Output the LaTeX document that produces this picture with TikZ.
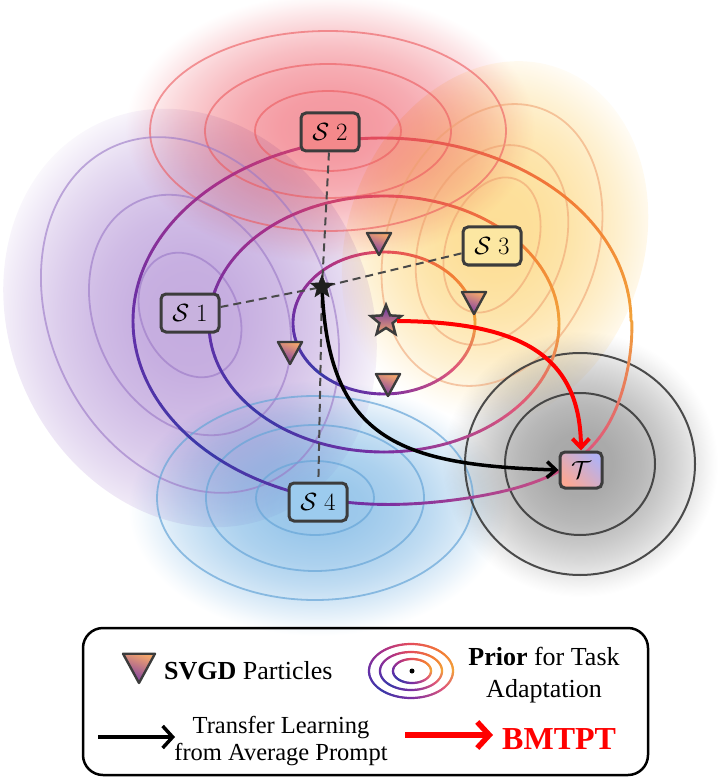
\documentclass[tikz,border=0pt]{standalone}
\usepackage{fontspec}
\setmainfont{Liberation Serif}
\usetikzlibrary{arrows.meta,shapes.geometric}

% prior curve colour stops
\definecolor{cO}{HTML}{F2A23A}
\definecolor{cRb}{HTML}{E0587A}
\definecolor{cPb}{HTML}{7A2FA2}
\definecolor{cB}{HTML}{3A38A8}
\definecolor{cPl}{HTML}{6430A8}
\definecolor{cM}{HTML}{A8308A}
\definecolor{cR}{HTML}{E44C5C}
\definecolor{cOr}{HTML}{F27A36}
% blobs
\definecolor{blobR}{HTML}{F4979F}
\definecolor{blobP}{HTML}{C4ABDF}
\definecolor{blobY}{HTML}{FDDE96}
\definecolor{blobB}{HTML}{98C6EA}
\definecolor{blobG}{HTML}{A6A6A6}
% thin ellipses
\definecolor{ellR}{HTML}{EC5A5E}
\definecolor{ellP}{HTML}{9A78C6}
\definecolor{ellY}{HTML}{EE9E6E}
\definecolor{ellB}{HTML}{68A6D8}
\definecolor{ellG}{HTML}{3A3A3A}
% boxes
\definecolor{boxline}{HTML}{3C3C3C}
\definecolor{fS2}{HTML}{F4898B}
\definecolor{fS1}{HTML}{C8B2DE}
\definecolor{fS3}{HTML}{FCE7A2}
\definecolor{fS4}{HTML}{9CCBEE}
\definecolor{fTa}{HTML}{B2B2F2}
\definecolor{fTb}{HTML}{FCA894}
\definecolor{dashc}{HTML}{4A4A4A}
\definecolor{triTop}{HTML}{F4A66C}
\definecolor{triMid}{HTML}{D0607E}
\definecolor{triBot}{HTML}{7A3AA8}

\newcommand{\declblob}[2]{%
  \pgfdeclareradialshading{#1}{\pgfpointorigin}{%
    color(0bp)=(#2); color(6bp)=(#2!95!white); color(11bp)=(#2!80!white);
    color(15bp)=(#2!62!white); color(18.5bp)=(#2!42!white); color(21.5bp)=(#2!22!white);
    color(23.5bp)=(#2!8!white); color(25bp)=(white); color(50bp)=(white)}}
\declblob{shR}{blobR}
\declblob{shP}{blobP}
\declblob{shY}{blobY}
\declblob{shB}{blobB}
\declblob{shG}{blobG}

\newcommand{\mixseg}[4]{%
  \pgfmathtruncatemacro\segpp{100*(#2-\segang)/(#2-#1)}%
  \colorlet{segc}{#3!\segpp!#4}}
\newcommand{\setsegcolor}[1]{%
  \pgfmathsetmacro\segang{mod(#1,360)}%
  \ifdim\segang pt<40pt \mixseg{0}{40}{cO}{cRb}\else
  \ifdim\segang pt<90pt \mixseg{40}{90}{cRb}{cPb}\else
  \ifdim\segang pt<135pt \mixseg{90}{135}{cPb}{cB}\else
  \ifdim\segang pt<180pt \mixseg{135}{180}{cB}{cPl}\else
  \ifdim\segang pt<230pt \mixseg{180}{230}{cPl}{cM}\else
  \ifdim\segang pt<270pt \mixseg{230}{270}{cM}{cR}\else
  \ifdim\segang pt<315pt \mixseg{270}{315}{cR}{cOr}\else
  \mixseg{315}{360}{cOr}{cO}\fi\fi\fi\fi\fi\fi\fi}
% #1 cx #2 cy #3 rx #4 ry #5 bump #6 width
\newcommand{\priorcurve}[6]{%
  \foreach \segA in {0,3,...,357}{%
    \setsegcolor{\segA+1.5}%
    \draw[draw=segc, line width=#6, line cap=round]
      plot[domain=\segA:\segA+3, samples=3, variable=\pv]
      ({#1+#3*cos(\pv)*(1+#5*exp(-min(20,((\pv-44)/24)*((\pv-44)/24))))},
       {#2+#4*sin(\pv)*(1+#5*exp(-min(20,((\pv-44)/24)*((\pv-44)/24))))});
  }}
% particle triangle: #1 x, #2 y, #3 scale
\newcommand{\particle}[3]{%
  \shadedraw[draw=boxline, line width=2.4pt, line join=round,
    top color=triTop, middle color=triMid, bottom color=triBot, shading angle=-20]
    ({#1-12*#3},{#2-10*#3}) -- ({#1+12*#3},{#2-10*#3}) -- ({#1},{#2+12*#3}) -- cycle;}

\begin{document}
\begin{tikzpicture}[x=1pt,y=-1pt,
  sbox/.style={draw=boxline, line width=3pt, rounded corners=5pt,
    minimum width=58pt, minimum height=38pt, inner sep=0pt,
    font=\fontsize{24}{26}\selectfont},
  thinell/.style={line width=1.8pt},
  dline/.style={draw=dashc, line width=2pt, dash pattern=on 8pt off 5pt},
  ltext/.style={inner sep=0pt, font=\fontsize{26}{31}\selectfont}]
\useasboundingbox (0,0) rectangle (725,783);

% soft blobs
\begin{scope}[blend mode=multiply]
\shade[shading=shP, rotate around={25:(190,318)}] (190,318) ellipse [x radius=180pt, y radius=215pt];
\shade[shading=shR] (330,128) ellipse [x radius=205pt, y radius=135pt];
\shade[shading=shY, rotate around={-20:(495,245)}] (495,245) ellipse [x radius=148pt, y radius=188pt];
\shade[shading=shB] (318,508) ellipse [x radius=190pt, y radius=128pt];
\shade[shading=shG] (580,464) ellipse [x radius=138pt, y radius=133pt];
\end{scope}

% thin ellipses
\foreach \rx/\ry in {178pt/100pt,123pt/67pt,73pt/40pt}
  \draw[thinell, draw=ellR, draw opacity=0.6] (328,131) ellipse [x radius=\rx, y radius=\ry];
\foreach \rx/\ry in {140pt/185pt,95pt/125pt,48pt/65pt}
  \draw[thinell, draw=ellP, draw opacity=0.6, rotate around={25:(190,315)}] (190,315) ellipse [x radius=\rx, y radius=\ry];
\foreach \rx/\ry in {105pt/145pt,72pt/103pt,45pt/70pt}
  \draw[thinell, draw=ellY, draw opacity=0.55, rotate around={-20:(492,245)}] (492,245) ellipse [x radius=\rx, y radius=\ry];
\foreach \rx/\ry in {158pt/102pt,109pt/73pt,59pt/37pt}
  \draw[thinell, draw=ellB, draw opacity=0.7] (315,498) ellipse [x radius=\rx, y radius=\ry];
\foreach \rx/\ry in {115pt/111pt,75pt/71pt}
  \draw[line width=2pt, draw=ellG, draw opacity=0.9] (580,464) ellipse [x radius=\rx, y radius=\ry];

% prior curves
\priorcurve{384}{323}{91}{71}{0}{2.9pt}
\priorcurve{384}{324}{175}{128}{0}{2.9pt}
\priorcurve{382}{321}{249}{183}{0.09}{2.9pt}

% positions
\coordinate (pB) at (322,287);
\node[sbox, fill=fS2] (S2) at (330,132) {$\mathcal{S}\;2$};
\node[sbox, fill=fS1] (S1) at (190,313) {$\mathcal{S}\;1$};
\node[sbox, fill=fS3] (S3) at (492,246) {$\mathcal{S}\;3$};
\node[sbox, fill=fS4] (S4) at (318,502) {$\mathcal{S}\;4$};
\node[sbox, minimum width=42pt, minimum height=36pt, top color=fTa, bottom color=fTb,
  shading angle=-45] (T) at (581,470) {$\mathcal{T}$};

% dashed lines
\draw[dline] (S2) -- (pB);
\draw[dline] (S1) -- (pB);
\draw[dline] (S3) -- (pB);
\draw[dline] (pB) -- (S4);

% particles
\particle{379}{243}{1}
\particle{474}{302}{1}
\particle{290}{352}{1}
\particle{388}{384}{1}

% stars
\node[star, star points=5, star point ratio=2.3, minimum size=32pt, inner sep=0pt,
  draw=boxline, line width=2.5pt, top color=cPl, bottom color=triTop] (starP) at (386,321) {};

% arrows
\draw[line width=3.5pt, -{Straight Barb[length=9pt,width=16pt]}]
  (pB) .. controls (328,440) and (400,465) .. (T.west);
\draw[red, line width=4pt, -{Straight Barb[length=9pt,width=17pt]}]
  (starP.east) .. controls (520,322) and (580,355) .. (T.north);

\node[star, star points=5, star point ratio=2.3, minimum size=24pt, inner sep=0pt,
  fill=black!88, draw=black!88, line width=0.5pt] (starB) at (pB) {};

% legend
\node[draw=black, line width=2.5pt, rounded corners=20pt, minimum width=565pt,
  minimum height=147pt, inner sep=0pt] (legend) at (365.5,701.5) {};
\particle{139}{667}{1.33}
\node[ltext, anchor=base west] (lsvgd) at (164,679) {\textbf{SVGD} Particles};
\priorcurve{411}{671}{42}{27}{0}{2.2pt}
\priorcurve{411}{671}{31}{19}{0}{2.2pt}
\priorcurve{412}{671}{19}{12}{0}{2.2pt}
\fill (412,671) circle (2.5pt);
\node[ltext, anchor=base] (lprior1) at (544,665) {\textbf{Prior} for Task};
\node[ltext, anchor=base] (lprior2) at (544,697) {Adaptation};
\coordinate (lb1) at (98,737);
\coordinate (lb2) at (175,737);
\draw[line width=3.5pt, -{Straight Barb[length=10pt,width=22pt]}] (lb1) -- (lb2);
\node[inner sep=0pt, font=\fontsize{24.5}{27}\selectfont, anchor=base] (ltl1) at (281,733) {Transfer Learning};
\node[inner sep=0pt, font=\fontsize{24.5}{27}\selectfont, anchor=base] (ltl2) at (281,760) {from Average Prompt};
\coordinate (lr1) at (405,735);
\coordinate (lr2) at (493,735);
\draw[red, line width=5.5pt, -{Straight Barb[length=12pt,width=26pt]}] (lr1) -- (lr2);
\node[inner sep=0pt, font=\fontsize{32}{34}\selectfont\bfseries, text=red, anchor=base west] (lbm) at (502,749) {BMTPT};
\end{tikzpicture}
\end{document}
